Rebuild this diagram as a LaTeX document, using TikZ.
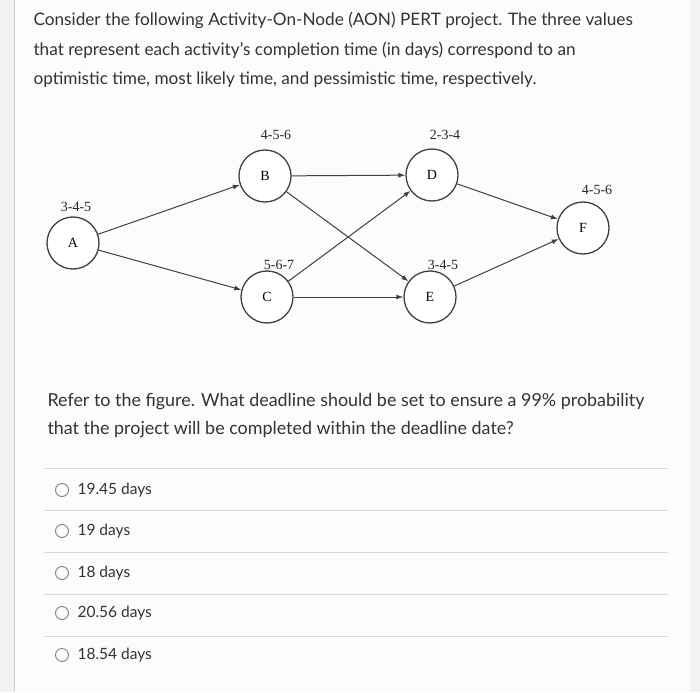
\documentclass[tikz,border=0pt]{standalone}
\usepackage{fontspec}
\setmainfont{Lato}
\newfontfamily\dfont{Liberation Serif}
\usetikzlibrary{arrows.meta}
\definecolor{txt}{HTML}{333333}
\tikzset{
  act/.style={circle,draw=black!75,line width=1.3pt,fill=white,minimum size=52pt,inner sep=0pt,font=\dfont\fontsize{14}{14}\selectfont},
  lab/.style={font=\dfont\fontsize{14}{14}\selectfont,text=black!85},
  con/.style={line width=1pt,black!75,-{Latex[length=7pt,width=5pt]}},
  qtext/.style={anchor=west,font=\fontsize{17.2}{20}\selectfont,text=txt},
  qtextb/.style={anchor=west,font=\fontsize{17.9}{20}\selectfont,text=txt},
  opt/.style={anchor=west,font=\fontsize{15.5}{18}\selectfont,text=txt},
  radio/.style={circle,draw=black!50,line width=0.9pt,minimum size=13pt,inner sep=0pt},
  sep/.style={draw=black!15,line width=0.8pt}
}
\begin{document}
\begin{tikzpicture}[x=1pt,y=-1pt]
\useasboundingbox (0,0) rectangle (700,692);
\fill[white!95!black] (0,0) rectangle (700,692);
\fill[white!99!black] (14,0) rectangle (690,692);
\draw[black!20] (14,0) -- (14,692);
\node[qtext] (t1) at (30,20) {Consider the following Activity-On-Node (AON) PERT project. The three values};
\node[qtext] (t2) at (30,50) {that represent each activity's completion time (in days) correspond to an};
\node[qtext] (t3) at (30,80) {optimistic time, most likely time, and pessimistic time, respectively.};
\node[act] (A) at (73,243) {A};
\node[act] (B) at (265,176) {B};
\node[act] (C) at (267,297) {C};
\node[act] (D) at (432,175) {D};
\node[act] (E) at (430,297) {E};
\node[act] (F) at (583,228) {F};
\node[lab] (lA) at (76,207) {3-4-5};
\node[lab] (lB) at (276,135) {4-5-6};
\node[lab] (lD) at (445,135) {2-3-4};
\node[lab] (lF) at (597,190) {4-5-6};
\node[lab] (lC) at (279,265) {5-6-7};
\node[lab] (lE) at (443,265) {3-4-5};
\draw[con] (A) -- (B);
\draw[con] (A) -- (C);
\draw[con] (B) -- (D);
\draw[con] (B) -- (E);
\draw[con] (C) -- (D);
\draw[con] (C) -- (E);
\draw[con] (D) -- (F);
\draw[con] (E) -- (F);
\node[qtextb] (q1) at (44,402) {Refer to the figure. What deadline should be set to ensure a 99\% probability};
\node[qtextb] (q2) at (44,430) {that the project will be completed within the deadline date?};
\foreach \y in {468,510,552,594,636} \draw[sep] (44,\y) -- (668,\y);
\foreach \y/\t [count=\i] in {490/19.45 days,531/19 days,573/18 days,613/20.56 days,655/18.54 days}{
  \node[radio] (r\i) at (62,\y) {};
  \node[opt] (o\i) at (74,\y) {\t};
}
\end{tikzpicture}
\end{document}
